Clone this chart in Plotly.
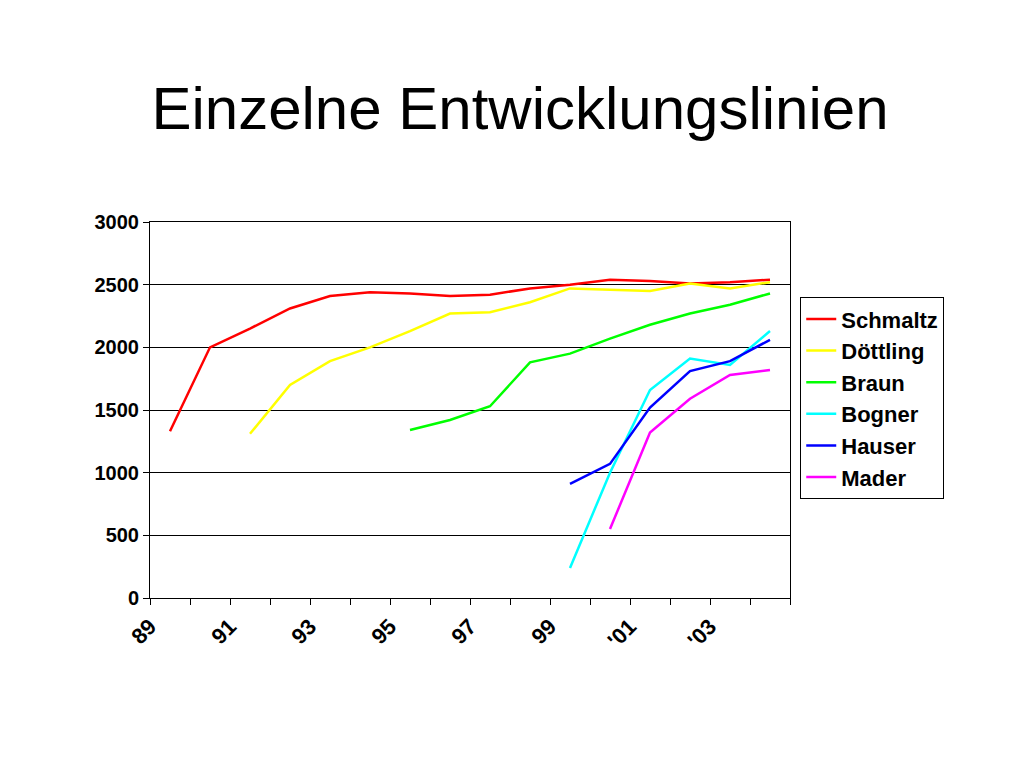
import plotly.graph_objects as go

jahre = [89.5 + i for i in range(16)]
schmaltz = [1330, 2000, 2150, 2310, 2410, 2440, 2430, 2410, 2420, 2470, 2500, 2540, 2530, 2510, 2520, 2540]
doettling = [None, None, 1310, 1700, 1890, 2000, 2130, 2270, 2280, 2360, 2470, 2460, 2450, 2510, 2470, 2520]
braun = [None] * 6 + [1340, 1420, 1530, 1880, 1950, 2070, 2180, 2270, 2340, 2430]
bogner = [None] * 10 + [240, 1000, 1660, 1910, 1860, 2130]
hauser = [None] * 10 + [910, 1070, 1520, 1810, 1890, 2060]
mader = [None] * 11 + [550, 1320, 1590, 1780, 1820]

tick_pos = list(range(89, 106))
tick_txt = ["89", "", "91", "", "93", "", "95", "", "97", "", "99", "", "'01", "", "'03", "", ""]

reihen = [
    ("Schmaltz", schmaltz, "#ff0000"),
    ("Döttling", doettling, "#ffff00"),
    ("Braun", braun, "#00ff00"),
    ("Bogner", bogner, "#00ffff"),
    ("Hauser", hauser, "#0000ff"),
    ("Mader", mader, "#ff00ff"),
]

fig = go.Figure()
for name, werte, farbe in reihen:
    fig.add_trace(go.Scatter(x=jahre, y=werte, name="<b>" + name + "</b>", mode="lines",
                             line=dict(color=farbe, width=2.5)))

fig.update_layout(
    width=1024, height=768,
    paper_bgcolor="white", plot_bgcolor="white",
    margin=dict(l=142, r=242, t=214, b=178),
    font=dict(family="Liberation Sans, Arial", color="black"),
    title=dict(text="Einzelne Entwicklungslinien", x=0.5, xanchor="center",
               y=0.87, yanchor="middle", font=dict(size=60)),
    legend=dict(x=1.016, y=0.80, xanchor="left", yanchor="top",
                bordercolor="black", borderwidth=1,
                font=dict(size=22, family="Liberation Sans, Arial"),
                tracegroupgap=2),
)
fig.update_xaxes(range=[89, 105], tickmode="array", tickvals=tick_pos,
                 ticktext=["<b>" + t + "</b>" if t else "" for t in tick_txt],
                 tickangle=-45, ticks="outside", ticklen=6, tickcolor="black",
                 showgrid=False, showline=True, linecolor="black", mirror=True,
                 tickfont=dict(size=22))
fig.update_yaxes(range=[0, 3000], dtick=500, ticks="outside", ticklen=6, tickcolor="black",
                 showgrid=True, gridcolor="black", gridwidth=1,
                 showline=True, linecolor="black", mirror=True, zeroline=False,
                 tickprefix="<b>", ticksuffix="</b>", tickfont=dict(size=20))

fig.write_html("out.html")
